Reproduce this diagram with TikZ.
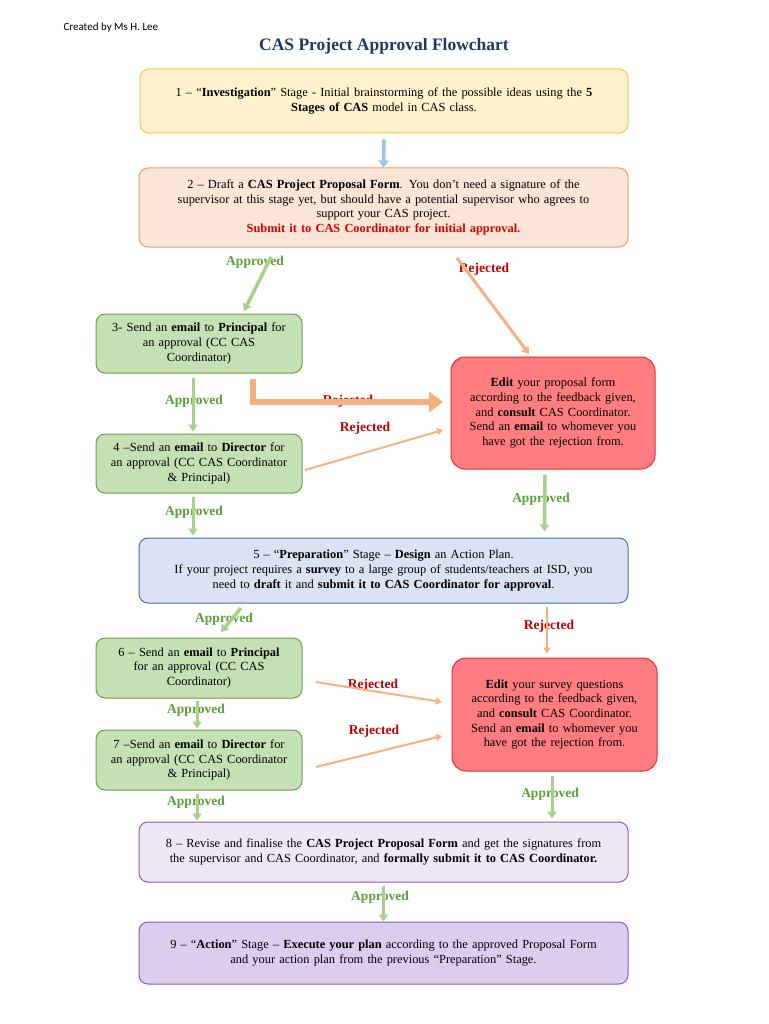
\documentclass[tikz,border=0pt]{standalone}
\usepackage{fontspec}
\setmainfont{Liberation Serif}
\newfontfamily\carl{Carlito}
\usetikzlibrary{arrows.meta,calc}
\definecolor{yelF}{HTML}{FFF2CC}\definecolor{yelD}{HTML}{F2C94C}
\definecolor{orF}{HTML}{FBE5D6}\definecolor{orD}{HTML}{E0A070}
\definecolor{grF}{HTML}{C5E0B4}\definecolor{grD}{HTML}{6E9E50}
\definecolor{rdF}{HTML}{FF7C80}\definecolor{rdD}{HTML}{E03030}
\definecolor{blF}{HTML}{DAE3F3}\definecolor{blD}{HTML}{4A6FA8}
\definecolor{puF}{HTML}{EEE8F6}\definecolor{puF2}{HTML}{DCCDEE}\definecolor{puD}{HTML}{8A5BB8}
\definecolor{apc}{HTML}{5E9E3A}\definecolor{rjc}{HTML}{C00000}
\definecolor{garr}{HTML}{A9D18E}\definecolor{oarr}{HTML}{F4B183}\definecolor{barr}{HTML}{9DC3E6}
\definecolor{navy}{HTML}{1F3864}
\begin{document}
\begin{tikzpicture}[x=1pt,y=-1pt,
 box/.style={draw,rounded corners=9pt,line width=1pt,align=center,inner sep=2pt,font=\fontsize{12.4}{14.6}\selectfont},
 lbl/.style={font=\fontsize{13.5}{15}\selectfont\bfseries},
 ap/.style={lbl,text=apc}, rj/.style={lbl,text=rjc},
 ga/.style={draw=garr,line width=3.5pt,-{Triangle[length=7pt,width=9pt]}},
 oa/.style={draw=oarr,line width=3pt,-{Triangle[length=7pt,width=9pt]}},
 oat/.style={draw=oarr,line width=2pt,-{Triangle[length=6pt,width=7pt]}}]
\useasboundingbox[fill=white] (0,0) rectangle (768,1024);
\node[font=\carl\fontsize{11}{13}\selectfont,anchor=west] (cr) at (60,28) {Created by Ms H. Lee};
\node[font=\fontsize{17.5}{20}\selectfont\bfseries,text=navy] (title) at (384,46) {CAS Project Approval Flowchart};
\node[box,fill=yelF,draw=yelD,minimum width=488pt,minimum height=64pt,text width=470pt] (b1) at (384,101)
 {1 -- ``\textbf{Investigation}'' Stage - Initial brainstorming of the possible ideas using the \textbf{5}\\\textbf{Stages of CAS} model in CAS class.};
\node[box,fill=orF,draw=orD,minimum width=489pt,minimum height=79pt,text width=470pt] (b2) at (383.5,207.5)
 {2 -- Draft a \textbf{CAS Project Proposal Form}. You don't need a signature of the\\supervisor at this stage yet, but should have a potential supervisor who agrees to\\support your CAS project.\\\textcolor{red!85!black}{\textbf{Submit it to CAS Coordinator for initial approval.}}};
\node[box,fill=grF,draw=grD,minimum width=206pt,minimum height=59pt,text width=200pt] (b3) at (199,343.5)
 {3- Send an \textbf{email} to \textbf{Principal} for\\an approval (CC CAS\\Coordinator)};
\node[box,fill=grF,draw=grD,minimum width=206pt,minimum height=59pt,text width=200pt] (b4) at (199,463.5)
 {4 --Send an \textbf{email} to \textbf{Director} for\\an approval (CC CAS Coordinator\\\& Principal)};
\node[box,fill=rdF,draw=rdD,rounded corners=14pt,minimum width=204pt,minimum height=112pt,text width=198pt] (e1) at (553,413)
 {\textbf{Edit} your proposal form\\according to the feedback given,\\and \textbf{consult} CAS Coordinator.\\Send an \textbf{email} to whomever you\\have got the rejection from.};
\node[box,fill=blF,draw=blD,minimum width=489pt,minimum height=65pt,text width=470pt] (b5) at (383.5,570.5)
 {5 -- ``\textbf{Preparation}'' Stage -- \textbf{Design} an Action Plan.\\If your project requires a \textbf{survey} to a large group of students/teachers at ISD, you\\need to \textbf{draft} it and \textbf{submit it to CAS Coordinator for approval}.};
\node[box,fill=grF,draw=grD,minimum width=206pt,minimum height=60pt,text width=200pt] (b6) at (199,668)
 {6 -- Send an \textbf{email} to \textbf{Principal}\\for an approval (CC CAS\\Coordinator)};
\node[box,fill=grF,draw=grD,minimum width=206pt,minimum height=60pt,text width=200pt] (b7) at (199,760)
 {7 --Send an \textbf{email} to \textbf{Director} for\\an approval (CC CAS Coordinator\\\& Principal)};
\node[box,fill=rdF,draw=rdD,rounded corners=14pt,minimum width=205pt,minimum height=113pt,text width=198pt] (e2) at (554.5,714.5)
 {\textbf{Edit} your survey questions\\according to the feedback given,\\and \textbf{consult} CAS Coordinator.\\Send an \textbf{email} to whomever you\\have got the rejection from.};
\node[box,fill=puF,draw=puD,minimum width=489pt,minimum height=60pt,text width=480pt] (b8) at (383.5,852)
 {8 -- Revise and finalise the \textbf{CAS Project Proposal Form} and get the signatures from\\the supervisor and CAS Coordinator, and \textbf{formally submit it to CAS Coordinator.}};
\node[box,fill=puF2,draw=puD,minimum width=489pt,minimum height=62pt,text width=480pt] (b9) at (383.5,953)
 {9 -- ``\textbf{Action}'' Stage -- \textbf{Execute your plan} according to the approved Proposal Form\\and your action plan from the previous ``Preparation'' Stage.};
% labels
\node[ap] (l1) at (255,262) {Approved};
\node[rj] (l2) at (484,269) {Rejected};
\node[ap] (l3) at (194,401) {Approved};
\node[rj] (l4) at (348,401) {Rejected};
\node[rj] (l5) at (365,428) {Rejected};
\node[ap] (l6) at (541,499) {Approved};
\node[ap] (l7) at (194,512) {Approved};
\node[ap] (l8) at (224,619) {Approved};
\node[rj] (l9) at (549,626) {Rejected};
\node[rj] (l10) at (373,685) {Rejected};
\node[ap] (l11) at (196,710) {Approved};
\node[rj] (l12) at (374,731) {Rejected};
\node[ap] (l13) at (196,802) {Approved};
\node[ap] (l14) at (550,794) {Approved};
\node[ap] (l15) at (380,897) {Approved};
% coordinates for arrow ends
\coordinate (a2s) at (271,257); \coordinate (a2e) at (244,311);
\coordinate (r2s) at (457,258); \coordinate (r2e) at (529,354);
\coordinate (r3s) at (253,379); \coordinate (r3m) at (253,402); \coordinate (r3e) at (443,402);
\coordinate (r4s) at (305,470); \coordinate (r4e) at (443,430);
\coordinate (r6s) at (316,682); \coordinate (r6e) at (442,702);
\coordinate (r7s) at (316,767); \coordinate (r7e) at (442,736);
\coordinate (a5s) at (241,608); \coordinate (a5e) at (221,632);
% arrows
\draw[draw=barr,line width=3.5pt,-{Triangle[length=7pt,width=10pt]}] ($(b1.south)+(0,6)$) -- (b2.north);
\draw[ga] (a2s) -- (a2e);
\draw[oa] (r2s) -- (r2e);
\draw[draw=oarr,line width=6pt,-{Triangle[length=14pt,width=20pt]}] (r3s) -- (r3m) -- (r3e);
\draw[oat] (r4s) -- (r4e);
\draw[ga,line width=3pt] ($(b3.south)+(-6,4)$) -- ($(b4.north)+(-6,-2)$);
\draw[ga,line width=3pt] ($(b4.south)+(-6,3)$) -- ($(b4.south)+(-6,42)$);
\draw[ga] ($(e1.south)+(-8,5)$) -- ($(b5.north)+(161,-6)$);
\draw[ga] (a5s) -- (a5e);
\draw[oat] ($(b5.south)+(163.5,3)$) -- ($(e2.north)+(-7.5,-4)$);
\draw[oat] (r6s) -- (r6e);
\draw[oat] (r7s) -- (r7e);
\draw[ga,line width=3pt] ($(b6.south)+(-2,2)$) -- ($(b7.north)+(-2,-1)$);
\draw[ga,line width=3pt] ($(b7.south)+(-2,3)$) -- ($(b8.north)+(-186.5,-1)$);
\draw[ga,line width=3pt] ($(e2.south)+(-2.5,4)$) -- ($(b8.north)+(168.5,-3)$);
\draw[ga,line width=3pt] ($(b8.south)+(0,3)$) -- (b9.north);
\end{tikzpicture}
\end{document}
